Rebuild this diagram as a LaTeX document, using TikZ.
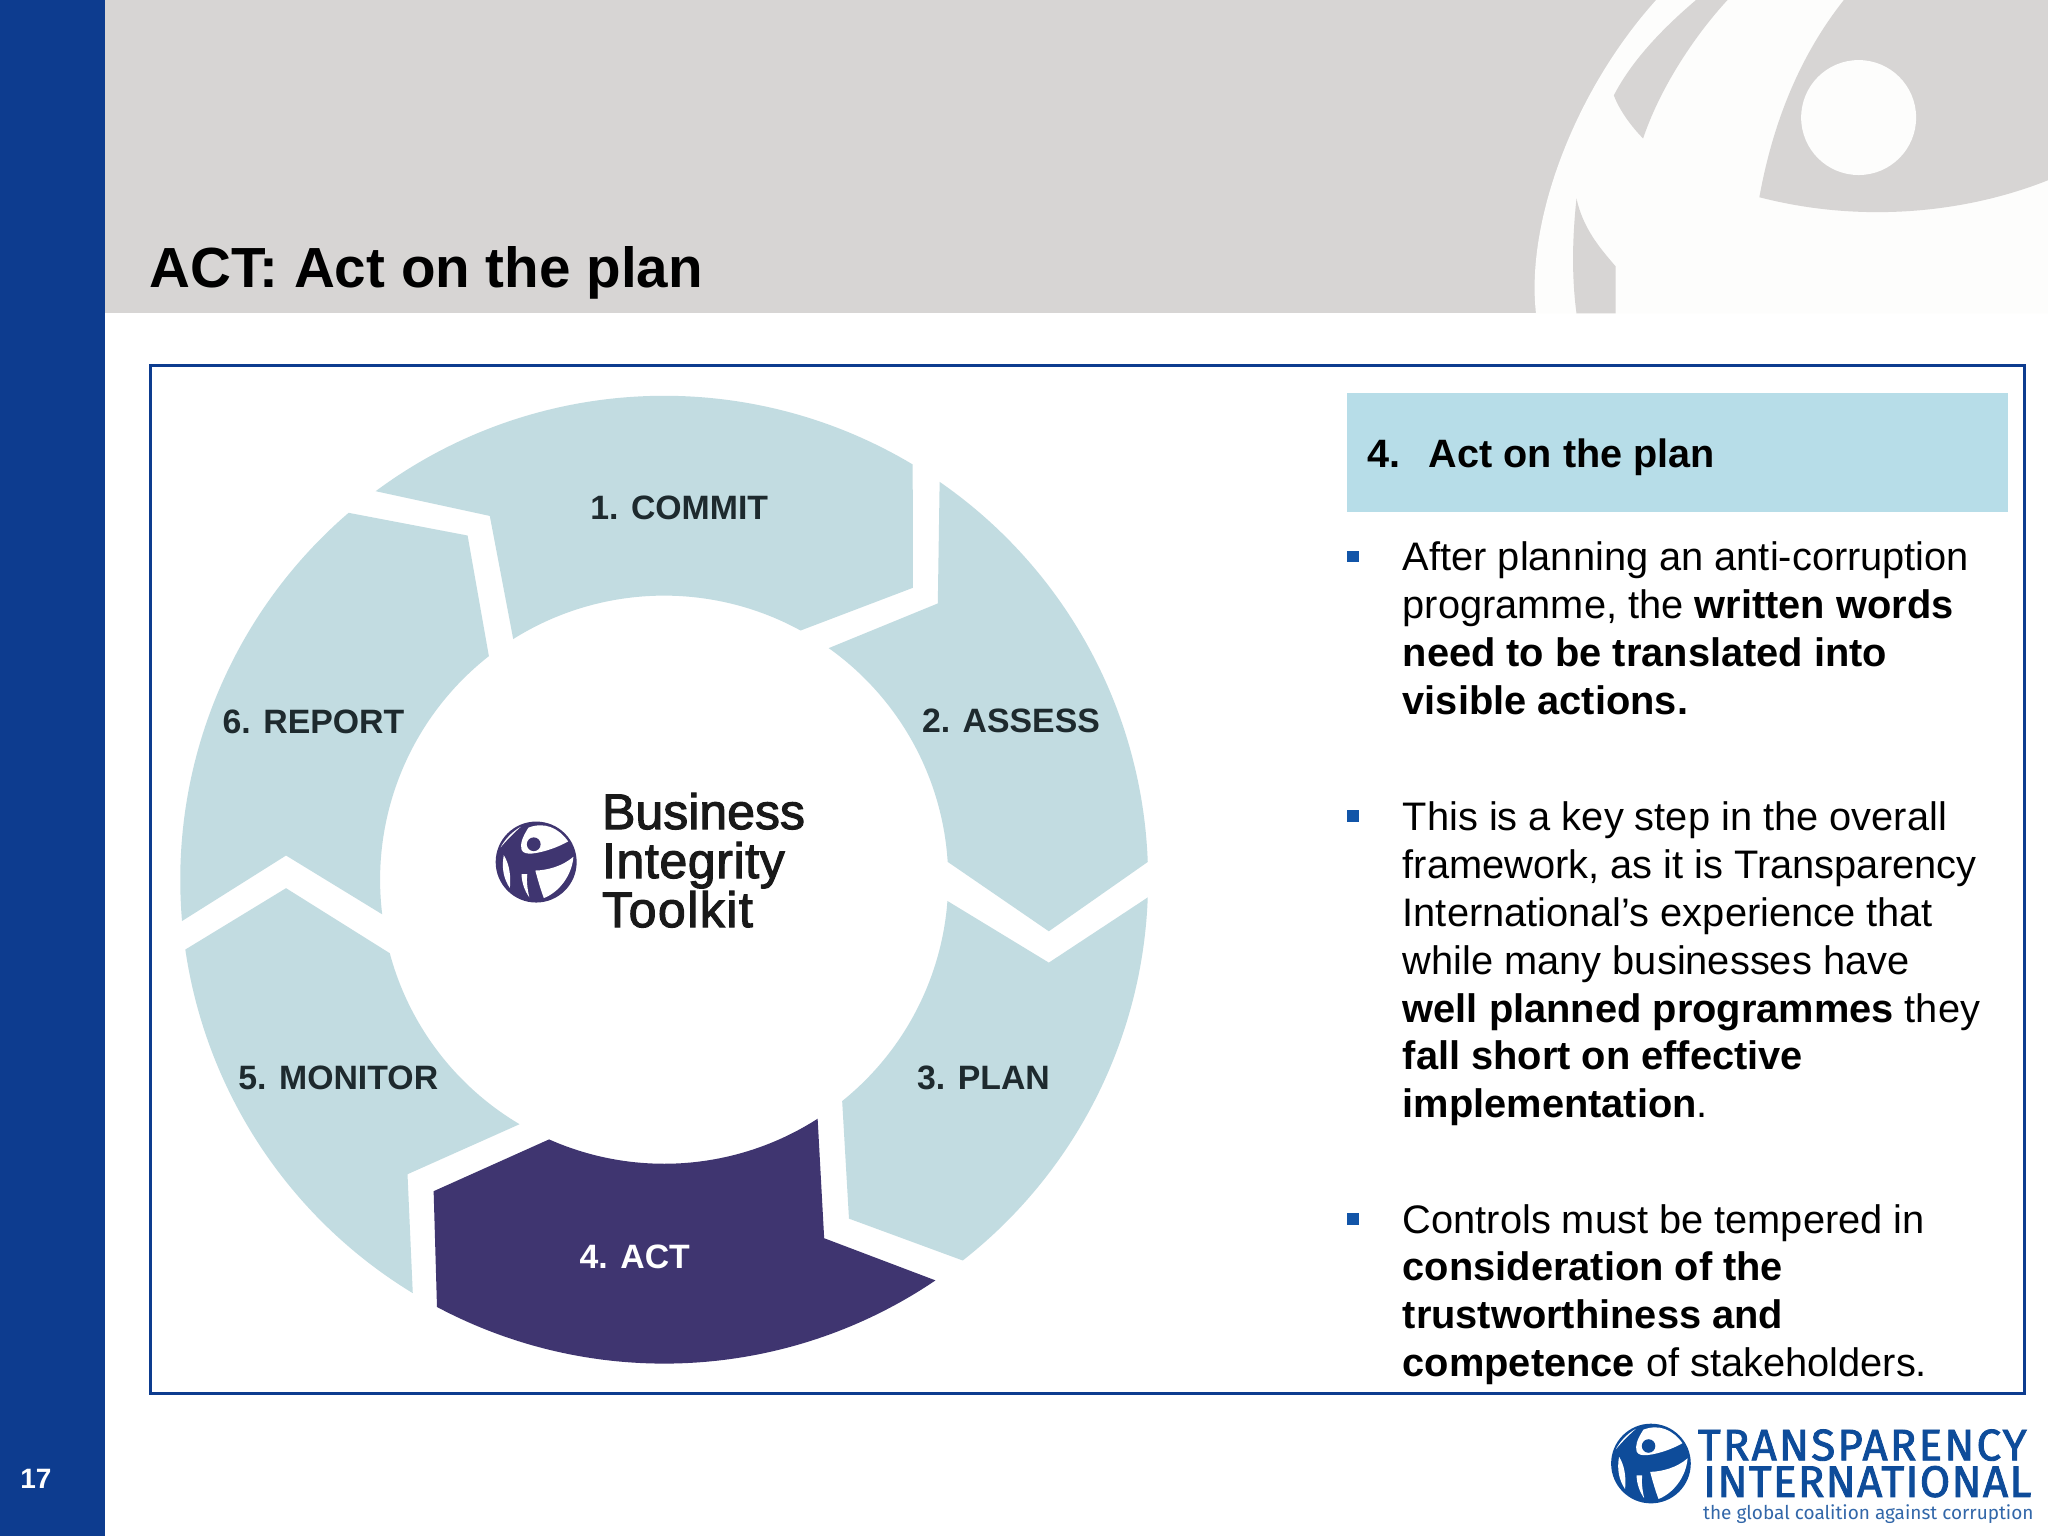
\documentclass[tikz,border=0pt]{standalone}
\usepackage{fontspec}
\setmainfont{Liberation Sans}
\newfontfamily\medfont[FakeBold=2.2]{Liberation Sans}
\newfontfamily\medfontB[FakeBold=2.2,LetterSpace=1.2]{Liberation Sans}
\newfontfamily\medfontC[FakeBold=2.2,LetterSpace=3]{Liberation Sans}
\newfontfamily\logofont{Fira Sans}
\newfontfamily\logomedA[FakeBold=2,LetterSpace=4.9]{Fira Sans}
\newfontfamily\logomedB[FakeBold=2,LetterSpace=3.0]{Fira Sans}
\definecolor{tiblue}{HTML}{0D3C8F}
\definecolor{logoblue}{HTML}{0E4C9A}
\definecolor{headgray}{HTML}{D7D5D4}
\definecolor{wmark}{HTML}{FDFDFC}
\definecolor{ringblue}{HTML}{C2DCE1}
\definecolor{bandblue}{HTML}{B7DDE8}
\definecolor{actpurple}{HTML}{3F3570}
\definecolor{bulletblue}{HTML}{1255A8}
\definecolor{labelink}{HTML}{1E2A2E}
\tikzset{
  every node/.style={inner sep=0pt,outer sep=0pt},
  seglight/.style={fill=ringblue,draw=none},
  segdark/.style={fill=actpurple,draw=none},
  seglabel/.style={font=\fontsize{16.9}{20}\selectfont\bfseries,text=labelink,anchor=center},
  bodytext/.style={font=\fontsize{19.9}{23.9}\selectfont,text=black,anchor=north west,align=left},
  bulletmark/.style={fill=bulletblue,minimum size=5.9pt},
  logoline/.style={text=logoblue,anchor=base west},
  globe/.pic={
    \fill[pic actions] (0,0) circle (1);
    \fill[white] (-.19,-.85) .. controls (.2,-1) and (.55,-.85) .. (.79,-.51)
      .. controls (.6,-.4) and (.25,-.25) .. (-.10,-.21)
      .. controls (-.22,-.2) and (-.32,-.22) .. (-.36,-.30)
      .. controls (-.4,-.45) and (-.35,-.6) .. cycle;
    \fill[pic actions] (-.06,-.44) circle (.17);
    \fill[white] (-.02,.21) .. controls (.3,.2) and (.65,.1) .. (.92,-.13)
      .. controls (.88,.35) and (.55,.75) .. (.19,.89)
      .. controls (.1,.65) and (.03,.4) .. cycle;
    \fill[white] (-.38,-.87) .. controls (-.6,-.75) and (-.78,-.55) .. (-.88,-.36)
      .. controls (-.72,-.55) and (-.55,-.72) .. cycle;
    \fill[white] (-.80,-.17) .. controls (-.86,.15) and (-.8,.42) .. (-.65,.64)
      .. controls (-.62,.35) and (-.66,.05) .. cycle;
    \fill[white] (-.36,.30) .. controls (-.36,.5) and (-.28,.72) .. (-.17,.87)
      .. controls (-.22,.65) and (-.24,.45) .. (-.22,.30) -- cycle;
  }
}
\begin{document}
\begin{tikzpicture}[x=0.65306pt,y=-0.65306pt]
\useasboundingbox (0,0) rectangle (1568,1176);
\fill[white] (0,0) rectangle (1568,1176);
% header with watermark
\fill[headgray] (80,0) rectangle (1568,240);
\fill[wmark] (1176,240) .. controls (1168,170) and (1205,70) .. (1268,0) -- (1568,0) -- (1568,240) -- cycle;
\fill[headgray] (1298.5,0) .. controls (1275,20) and (1250,45) .. (1235.6,73)
  .. controls (1240,85) and (1250,98) .. (1258,106)
  .. controls (1270,70) and (1295,30) .. (1322.6,0) -- cycle;
\fill[headgray] (1207,152) .. controls (1212,175) and (1225,190) .. (1237,204)
  -- (1237,240) -- (1207,240) .. controls (1203,210) and (1204,180) .. (1207,152) -- cycle;
\fill[headgray] (1411.7,0) -- (1568,0) -- (1568,138)
  .. controls (1500,165) and (1420,170) .. (1347,151)
  .. controls (1358,90) and (1380,40) .. (1411.7,0) -- cycle;
\fill[wmark] (1423,90) circle (44);
% side bar
\fill[tiblue] (0,0) rectangle (80.5,1176);
\node[font=\fontsize{14}{16}\selectfont\bfseries,text=white,anchor=center] (pagenum) at (27.5,1132) {17};
% title
\node[font=\fontsize{28.3}{32}\selectfont\bfseries,text=black,anchor=base west] (title) at (114.5,220) {ACT: Act on the plan};
% frame
\draw[tiblue,line width=1.3pt] (115,280) rectangle (1550,1067);
% cycle
\begin{scope}[shift={(508.5,673.5)},y=0.65306pt]
\fill[seglight] (126.6:370.5) arc[start angle=126.6,end angle=59.1,radius=370.5]
  -- (190.5,223.5) -- (61.3:217.5) arc[start angle=61.3,end angle=122.1,radius=217.5]
  -- (-133.5,278.5) -- cycle;
\fill[seglight] (55.3:370.5) arc[start angle=55.3,end angle=2.1,radius=370.5]
  -- (294.5,-39.5) -- (3.6:217.5) arc[start angle=3.6,end angle=54.6,radius=217.5]
  -- (209.5,211.5) -- cycle;
\fill[seglight] (-2.1:370.5) arc[start angle=-2.1,end angle=-51.9,radius=370.5]
  -- (141.5,-259.5) -- (-51.2:217.5) arc[start angle=-51.2,end angle=-4.3,radius=217.5]
  -- (294.5,-63.5) -- cycle;
\fill[segdark] (-55.9:370.5) arc[start angle=-55.9,end angle=-118,radius=370.5]
  -- (-176.5,-238.5) -- (-113.9:217.5) arc[start angle=-113.9,end angle=-57.3,radius=217.5]
  -- (122.5,-274.5) -- cycle;
\fill[seglight] (-121.3:370.5) arc[start angle=-121.3,end angle=-171.7,radius=370.5]
  -- (-289.5,-6.5) -- (-165:217.5) arc[start angle=-165,end angle=-120.6,radius=217.5]
  -- (-196.5,-225.5) -- cycle;
\fill[seglight] (184.9:370.5) arc[start angle=184.9,end angle=130.7,radius=370.5]
  -- (-150.5,263.5) -- (128.1:217.5) arc[start angle=128.1,end angle=187,radius=217.5]
  -- (-289.5,18.5) -- cycle;
\end{scope}
\node[seglabel] (commit) at (520,389) {1. COMMIT};
\node[seglabel] (assess) at (774,552) {2. ASSESS};
\node[seglabel] (plan) at (753,825) {3. PLAN};
\node[seglabel,text=white] (act) at (486,962) {4. ACT};
\node[seglabel] (monitor) at (259,825) {5. MONITOR};
\node[seglabel] (report) at (240,553) {6. REPORT};
% centre logo
\begin{scope}[shift={(410.5,660)},x=20.245pt,y=-20.245pt]
\pic[fill=actpurple] {globe};
\end{scope}
\node[font=\fontsize{25}{24.5}\medfont,text=black!90,anchor=north west,align=left] (bit) at (461,607) {Business\\{\medfontB Integrity}\\{\medfontC Toolkit}};
% right column
\fill[bandblue] (1031,301) rectangle (1537,392);
\node[font=\fontsize{19.8}{24}\selectfont\bfseries,text=black,anchor=base west] (hnum) at (1047,358) {4.};
\node[font=\fontsize{19.8}{24}\selectfont\bfseries,text=black,anchor=base west] (htext) at (1094,358) {Act on the plan};
\node[bulletmark] (b1) at (1036,426) {};
\node[bulletmark] (b2) at (1036,625) {};
\node[bulletmark] (b3) at (1036,933) {};
\node[bodytext] (t1) at (1074,415) {After planning an anti-corruption\\programme, the \textbf{written words}\\\textbf{need to be translated into}\\\textbf{visible actions.}};
\node[bodytext] (t2) at (1074,614) {This is a key step in the overall\\framework, as it is Transparency\\International’s experience that\\while many businesses have\\\textbf{well planned programmes} they\\\textbf{fall short on effective}\\\textbf{implementation}.};
\node[bodytext] (t3) at (1074,922) {Controls must be tempered in\\\textbf{consideration of the}\\\textbf{trustworthiness and}\\\textbf{competence} of stakeholders.};
% footer logo
\begin{scope}[shift={(1264,1120.5)},x=19.918pt,y=-19.918pt]
\pic[fill=logoblue] {globe};
\end{scope}
\node[logoline,font=\fontsize{22}{24}\logomedA] (ti1) at (1300,1118) {TRANSPARENCY};
\node[logoline,font=\fontsize{22}{24}\logomedB] (ti2) at (1304,1146) {INTERNATIONAL};
\node[font=\fontsize{9.5}{12}\logofont,text=logoblue!85,anchor=base west] (ti3) at (1304,1163.5) {the global coalition against corruption};
\end{tikzpicture}
\end{document}
